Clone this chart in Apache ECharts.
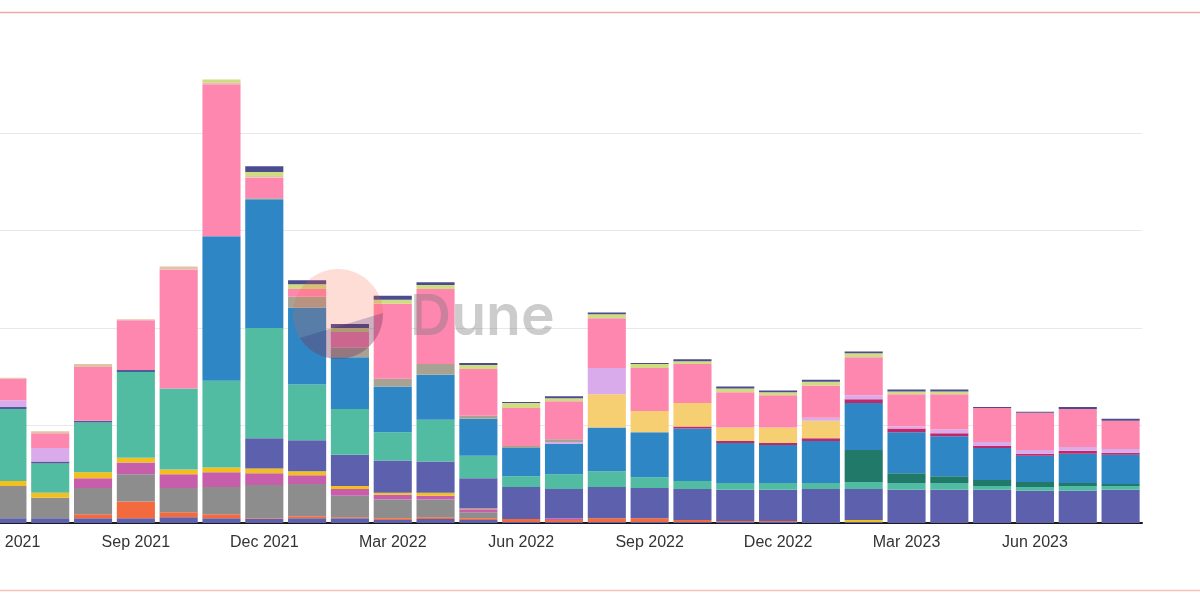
<!DOCTYPE html>
<html>
<head>
<meta charset="utf-8">
<script src="https://cdn.jsdelivr.net/npm/echarts@6/dist/echarts.min.js"></script>
<style>
html,body{margin:0;padding:0;background:#fff;overflow:hidden;}
#wrap{position:relative;width:1200px;height:600px;overflow:hidden;}
#chart{position:absolute;left:-14px;top:0;width:1214px;height:600px;}
</style>
</head>
<body>
<div id="wrap"><div id="chart"></div></div>
<script>
// Months (categories)
const months = ["Jun 2021","Jul 2021","Aug 2021","Sep 2021","Oct 2021","Nov 2021","Dec 2021",
  "Jan 2022","Feb 2022","Mar 2022","Apr 2022","May 2022","Jun 2022","Jul 2022","Aug 2022",
  "Sep 2022","Oct 2022","Nov 2022","Dec 2022","Jan 2023","Feb 2023","Mar 2023","Apr 2023",
  "May 2023","Jun 2023","Jul 2023","Aug 2023"];

// Series values (stack order bottom -> top), gridline step = 100
const sIndigo0  = [5,5,5,5,6,5,4,5,5,3,4,3,1,1,1,1,1,1,1,1,1,2,2,1,1,1,1];
const sOrange   = [0,0,4,17,5,4,1,2,1,2,2,2,3,2,4,4,2,1,1,0,0,0,0,0,0,0,0];
const sGray     = [33,21,27,28,25,28,34,33,22,19,18,6,0,0,0,0,0,0,0,0,0,0,0,0,0,0,0];
const sMagenta  = [0,0,10,12,14,15,12,9,7,5,4,3,0,2,0,0,0,0,0,0,0,0,0,0,0,0,0];
const sYellow   = [5,5,6,5,5,5,5,4,3,2,3,1,0,0,0,0,0,0,0,0,2,0,0,0,0,0,0];
const sIndigo   = [0,0,0,0,0,0,31,32,32,33,32,31,33,30,32,31,32,32,32,34,32,32,32,33,32,32,33];
const sGreen    = [74,30,51,88,83,89,113,57,47,29,43,23,11,15,16,11,8,7,7,6,7,7,7,4,4,5,4];
const sDkGreen  = [0,0,0,0,0,0,0,0,0,0,0,0,0,0,0,0,0,0,0,0,33,10,7,6,5,3,2];
const sBlue     = [0,0,0,0,0,148,132,79,53,47,46,38,29,31,45,46,54,41,39,43,48,42,41,33,27,30,30];
const sSlate    = [2,2,2,2,0,0,0,0,0,0,0,0,0,0,0,0,0,0,0,0,0,0,0,0,0,0,0];
const sCrimson  = [0,0,0,0,0,0,0,0,0,0,0,0,0,0,0,0,2,2,2,3,4,4,3,2,2,3,2];
const sSand     = [0,0,0,0,0,0,0,0,0,0,0,0,0,0,34,22,24,14,16,18,0,0,0,0,0,0,0];
const sLavender = [7,14,0,0,0,0,0,0,0,0,0,0,0,2,27,0,0,0,0,3,4,2,4,4,4,4,4];
const sTan      = [0,0,0,0,0,0,1,11,10,8,11,3,2,3,0,0,0,0,0,0,0,0,0,0,0,0,0];
const sPink     = [22,15,55,51,122,156,21,8,16,77,77,48,39,39,51,44,40,36,33,33,39,33,36,35,38,39,29];
const sPeach    = [1,2,3,1,3,2,2,0,0,0,0,0,0,0,0,0,0,0,0,0,0,0,0,0,0,0,0];
const sLime     = [0,0,0,0,0,3,4,5,4,4,4,4,5,3,4,4,3,4,3,4,4,3,3,0,0,0,0];
const sNavy     = [0,0,0,0,0,0,6,4,4,4,3,2,1,2,2,1,2,2,2,2,2,2,2,1,1,2,2];

const seriesDefs = [
  ["indigo0", sIndigo0, "#5c60ad"],
  ["orange", sOrange, "#f26a3e"],
  ["gray", sGray, "#8d8d8d"],
  ["magenta", sMagenta, "#c65eab"],
  ["yellow", sYellow, "#f2bf1e"],
  ["indigo", sIndigo, "#5c60ad"],
  ["green", sGreen, "#52bca2"],
  ["darkgreen", sDkGreen, "#217a69"],
  ["blue", sBlue, "#2e87c4"],
  ["slate", sSlate, "#4f5b9a"],
  ["crimson", sCrimson, "#c0286c"],
  ["sand", sSand, "#f5cf72"],
  ["lavender", sLavender, "#d9abeb"],
  ["tan", sTan, "#a8a292"],
  ["pink", sPink, "#fe87b0"],
  ["peach", sPeach, "#e3c3a6"],
  ["lime", sLime, "#d0db82"],
  ["navy", sNavy, "#4b4c8e"]
];

const chart = echarts.init(document.getElementById('chart'), null, {renderer: 'canvas'});

// page-to-container offset (container is shifted 14px left)
const OX = 14;
const cx = 338 + OX, cy = 314, r = 45;
const segPts = [];
const a1 = Math.atan2(-1, 45), a2 = Math.atan2(24, -38);
for (let i = 0; i <= 40; i++) {
  const a = a1 + (a2 - a1) * i / 40;
  segPts.push([cx + r * Math.cos(a), cy + r * Math.sin(a)]);
}

chart.setOption({
  animation: false,
  backgroundColor: '#ffffff',
  grid: {left: 0, right: 58, top: 35.5, bottom: 77, containLabel: false, outerBoundsMode: 'none'},
  xAxis: {
    type: 'category',
    data: months,
    axisTick: {show: false},
    axisLine: {lineStyle: {color: '#1a1a1a', width: 2}},
    axisLabel: {interval: 2, color: '#333', fontSize: 16, margin: 12, fontFamily: 'Liberation Sans'}
  },
  yAxis: {
    type: 'value', min: 0, max: 500, interval: 100,
    axisLabel: {show: false},
    axisLine: {show: false}, axisTick: {show: false},
    splitLine: {lineStyle: {color: '#e8e8e8', width: 1}, showMaxLine: false}
  },
  series: seriesDefs.map(([name, data, color]) => ({
    name, type: 'bar', stack: 'total', data,
    barCategoryGap: '11%',
    itemStyle: {color},
    emphasis: {disabled: true}
  })),
  graphic: [
    {type: 'line', shape: {x1: 0, y1: 12.5, x2: 1214, y2: 12.5}, style: {stroke: '#eeaaa3', lineWidth: 1.5}, z: 100},
    {type: 'line', shape: {x1: 0, y1: 590.5, x2: 1214, y2: 590.5}, style: {stroke: '#f6c3b8', lineWidth: 1.5}, z: 100},
    {type: 'circle', shape: {cx, cy, r}, style: {fill: 'rgba(244,96,62,0.21)'}, z: 100},
    {type: 'polygon', shape: {points: segPts}, style: {fill: 'rgba(30,24,112,0.22)'}, z: 101},
    {type: 'text', left: 410 + OX, top: 289, style: {text: 'Dune', font: '600 57px Inter', fill: 'rgba(120,120,120,0.38)'}, z: 101}
  ]
});
</script>
</body>
</html>
